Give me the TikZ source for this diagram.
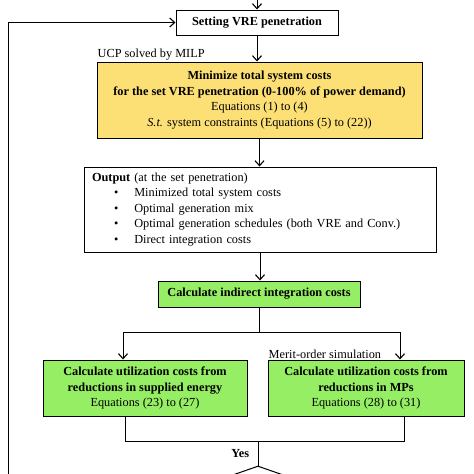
\documentclass[tikz,border=0pt]{standalone}
\usepackage{fontspec}
\setmainfont{Liberation Serif}
\usepackage{xcolor}
\usepackage{tikz}
\usetikzlibrary{arrows.meta,positioning}
\usetikzlibrary{calc,shapes.geometric}

\definecolor{ucpyellow}{RGB}{252,224,118}
\definecolor{calcgreen}{RGB}{150,238,100}

\tikzset{
  box/.style = {draw, line width = 1pt, inner sep = 0pt, align = center,
                font = \fontsize{12.3}{15.5}\selectfont},
  tag/.style = {anchor = south west, inner sep = 1pt,
                font = \fontsize{12.3}{14}\selectfont},
  arr/.style = {line width = 1pt, -{Straight Barb[length = 5pt, width = 9pt, line width = 1.1pt]}},
  link/.style = {line width = 1pt}
}

\newcommand{\outitem}[1]{\hspace*{22pt}\textbullet\hspace{16pt}#1}

\begin{document}
\begin{tikzpicture}[x = 1pt, y = -1pt]

\useasboundingbox (0,0) rectangle (474,474);

\node[box, minimum width = 162, minimum height = 25] (set) at (257,22.5)
{\textbf{Setting VRE penetration}};

\node[box, fill = ucpyellow, minimum width = 325, minimum height = 76] (ucp) at (259.5,100)
{\textbf{Minimize total system costs}\\
 \textbf{for the set VRE penetration (0-100\% of power demand)}\\
 Equations (1) to (4)\\
 \textit{S.t.} system constraints (Equations (5) to (22))};

\node[tag] (ucplabel) at (ucp.north west) {UCP solved by MILP};

\node[box, minimum width = 352, minimum height = 85, align = left,
      text width = 336] (out) at (260,209.5)
{\textbf{Output} (at the set penetration)\\
 \outitem{Minimized total system costs}\\
 \outitem{Optimal generation mix}\\
 \outitem{Optimal generation schedules (both VRE and Conv.)}\\
 \outitem{Direct integration costs}};

\node[box, fill = calcgreen, minimum width = 202, minimum height = 26] (ind) at (259,294)
{\textbf{Calculate indirect integration costs}};

\node[box, fill = calcgreen, minimum width = 204, minimum height = 56] (supp) at (145,388)
{\textbf{Calculate utilization costs from}\\
 \textbf{reductions in supplied energy}\\
 Equations (23) to (27)};

\node[box, fill = calcgreen, minimum width = 196, minimum height = 56] (mps) at (366,388)
{\textbf{Calculate utilization costs from}\\
 \textbf{reductions in MPs}\\
 Equations (28) to (31)};

\node[tag] (mplabel) at (mps.north west) {Merit-order simulation};

\node[draw, diamond, line width = 1pt, minimum width = 120, minimum height = 42,
      inner sep = 0pt] (dec) at (258,487) {};

\coordinate (start) at (257,-6);
\coordinate (split) at (258,332);
\coordinate (join) at (258,441);
\coordinate (loop) at (8,480);

\draw[arr] (start) -- (set.north);

\draw[arr] (set.south) -- (set.south |- ucp.north);

\draw[arr] (ucp.south) -- (ucp.south |- out.north);

\draw[arr] (out.south) -- (out.south |- ind.north);

\draw[link] (ind.south) -- (ind.south |- split);

\draw[arr] (split) -| ([xshift = -22pt]supp.north);

\draw[arr] (split) -| ([xshift = 34pt]mps.north);

\draw[link] ([xshift = -20pt]supp.south) |- (join);

\draw[link] ([xshift = 38pt]mps.south) |- (join);

\draw[link] (join) -- node[left = 5pt, font = \fontsize{12.3}{14}\selectfont\bfseries] {Yes} (dec.north);

\draw[arr] (loop) |- (set.west);

\end{tikzpicture}
\end{document}
